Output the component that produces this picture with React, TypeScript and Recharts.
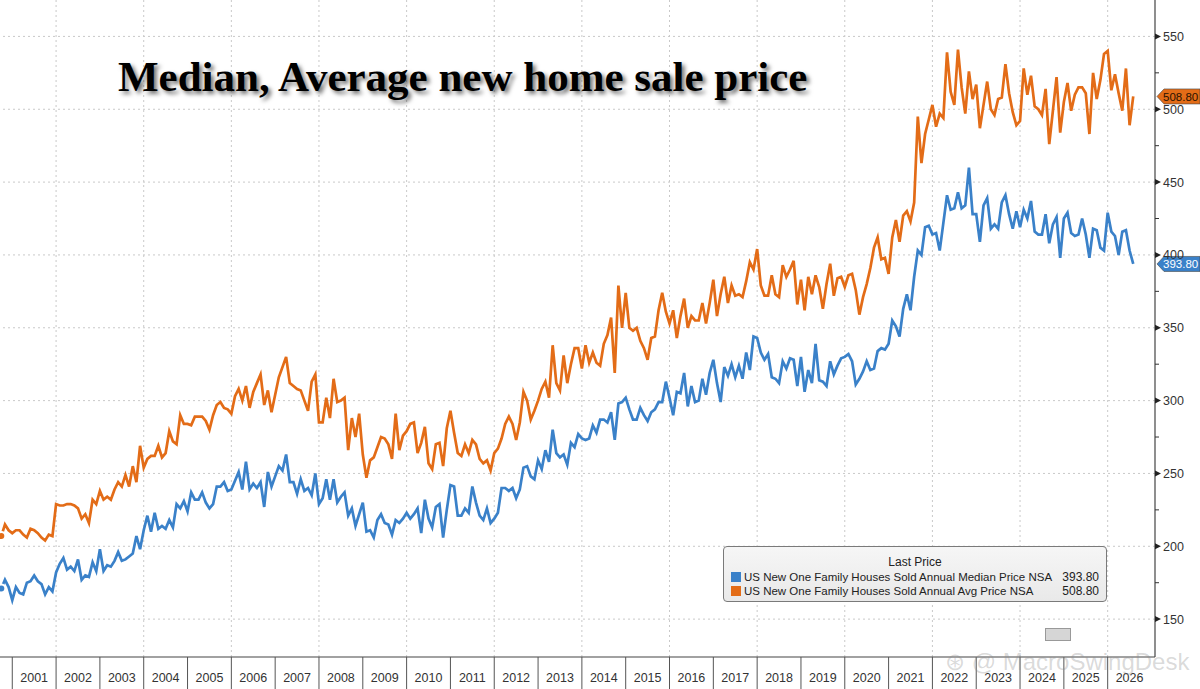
import React from 'react';
import { LineChart, Line, XAxis, YAxis, ReferenceLine, ReferenceDot } from 'recharts';

// monthly series, first point Oct 2000
const START_YEAR = 2000.75;

const MEDIAN = [
  171, 177, 172, 163, 172, 168, 167, 175, 176, 180, 176, 174, 167, 172, 169,
  182, 188, 192, 184, 186, 183, 191, 177, 180, 179, 189, 183, 198, 183, 187, 186,
  190, 196, 190, 191, 193, 195, 207, 198, 211, 221, 210, 223, 212, 214, 212, 218, 213, 229, 226, 231, 224,
  237, 232, 232, 237, 230, 226, 229, 241, 241, 244, 238, 239, 245, 251, 239, 258, 239, 243, 240, 244,
  227, 251, 241, 248, 255, 252, 263, 244, 244, 236, 246, 238, 240, 235, 250, 229, 233, 246, 232, 246,
  230, 234, 237, 221, 226, 214, 222, 230, 210, 211, 206, 218,
  222, 216, 215, 208, 218, 216, 219, 223, 219, 222, 226, 209, 232, 219, 213, 227, 229, 206, 225, 242,
  241, 221, 221, 226, 223, 241, 230, 221, 218, 226, 216, 219, 223, 240, 240, 238, 240, 233, 239, 254,
  255, 248, 246, 259, 253, 266, 258, 280, 264, 261, 263, 256, 271, 268, 277,
  274, 273, 274, 283, 278, 287, 287, 285, 292, 273, 298, 299, 302, 294, 287, 287, 295, 290, 286, 292,
  294, 299, 299, 313, 302, 290, 306, 305, 319, 296, 310, 299, 300, 315, 304, 319, 328, 312, 299, 323,
  317, 325, 316, 324, 315, 333, 321, 344, 343, 333, 328, 332,
  316, 315, 312, 327, 322, 329, 328, 310, 330, 306, 321, 312, 339, 314, 313, 310, 327, 318, 324, 329,
  330, 332, 327, 311, 315, 320, 327, 321, 322, 334, 336, 335, 339, 355, 351, 344, 363, 373, 362, 385,
  403, 400, 419, 420, 414, 415, 403, 422, 441, 431, 432, 443,
  432, 434, 460, 428, 428, 409, 434, 439, 418, 421, 418, 436, 441, 428, 418, 430, 419, 431, 425, 437,
  416, 414, 414, 428, 408, 421, 426, 398, 425, 429, 415, 413, 414, 425, 414, 398, 418, 417, 405, 403,
  429, 416, 413, 400, 416, 417, 403, 393.8,
];

const AVERAGE = [
  207, 215, 211, 209, 211, 211, 208, 206, 212, 211, 209, 206, 204, 208, 207,
  229, 228, 228, 229, 229, 228, 226, 219, 222, 216, 232, 229, 238, 232, 234, 232,
  239, 244, 241, 249, 241, 255, 244, 269, 254, 260, 262, 262, 269, 261, 264, 279, 272, 270, 290, 284,
  284, 283, 289, 289,
  289, 286, 280, 290, 297, 299, 295, 294, 291, 303, 308, 300, 310, 295, 306, 312, 318, 297, 307, 292,
  304, 316, 323, 330, 312, 310, 308, 307, 300, 293, 313, 318, 285, 285, 302, 288, 315, 299, 300, 302,
  266, 288, 275, 291, 263, 247, 259, 261, 268, 275, 274, 270,
  260, 291, 266, 276, 279, 284, 285, 264, 271, 282, 257, 253, 270, 271, 255, 281, 293, 278, 264, 262,
  270, 264, 273, 270, 260, 257, 259, 252, 264, 267, 274, 284, 289, 284, 273, 285, 306, 300, 287, 293,
  300, 308, 313, 302, 338, 312, 307, 331, 312, 325, 336, 336,
  322, 338, 326, 333, 326, 324, 339, 345, 357, 319, 379, 350, 374, 350, 348, 350, 341, 336, 328, 343,
  344, 362, 374, 361, 353, 362, 343, 358, 370, 350, 358, 355, 355, 367, 353, 367, 383, 358, 373, 385,
  367, 379, 372, 373, 371, 382, 395, 390, 404, 379, 372, 372,
  386, 373, 371, 393, 385, 390, 396, 366, 383, 362, 385, 373, 386, 378, 363, 380, 394, 372, 384, 385,
  378, 386, 387, 376, 359, 371, 380, 391, 405, 412, 397, 398, 387, 412, 424, 409, 427, 430, 423, 436,
  495, 463, 483, 493, 503, 488, 497, 494, 539, 512, 503, 541,
  515, 497, 526, 507, 517, 487, 503, 519, 500, 496, 507, 508, 531, 511, 498, 489, 492, 528, 510, 523,
  502, 500, 496, 514, 476, 499, 522, 484, 505, 518, 499, 510, 515, 515, 511, 483, 525, 507, 520, 538,
  540, 513, 524, 511, 499, 528, 489, 508.8,
];

const YEARS = [
  2001, 2002, 2003, 2004, 2005, 2006, 2007, 2008, 2009, 2010, 2011, 2012, 2013,
  2014, 2015, 2016, 2017, 2018, 2019, 2020, 2021, 2022, 2023, 2024, 2025, 2026,
];
const GRID_YEARS = [2002, 2004, 2006, 2008, 2010, 2012, 2014, 2016, 2018, 2020, 2022, 2024, 2026];
const Y_TICKS = [150, 175, 200, 225, 250, 275, 300, 325, 350, 375, 400, 425, 450, 475, 500, 525, 550];
const Y_GRID = [150, 200, 250, 300, 350, 400, 450, 500, 550];

const LAST_MEDIAN = 393.8;
const LAST_AVERAGE = 508.8;
const MEDIAN_NAME = 'US New One Family Houses Sold Annual Median Price NSA';
const AVERAGE_NAME = 'US New One Family Houses Sold Annual Avg Price NSA';

const BLUE = '#3a81c9';
const ORANGE = '#e36c17';

const X_MIN = 2000.72;
const X_MAX = 2027.08;
const WIDTH = 1200;
const HEIGHT = 689;
const AXIS_W = 45;
const PLOT_W = WIDTH - AXIS_W;
const HALF_YEAR = PLOT_W / (X_MAX - X_MIN) / 2;

const data = MEDIAN.map((m, i) => ({
  t: START_YEAR + i / 12,
  median: m,
  avg: AVERAGE[i],
}));

const FONT = '"Liberation Sans", Arial, sans-serif';

function YearTick(props: any) {
  const { x, y, payload } = props;
  return (
    <g>
      <line x1={x} y1={y} x2={x} y2={HEIGHT} stroke="#555" strokeWidth={1} />
      <text x={x + HALF_YEAR} y={y + 25} textAnchor="middle" fontFamily={FONT} fontSize={12.5} fill="#333">
        {payload.value}
      </text>
    </g>
  );
}

function PriceTick(props: any) {
  const { x, y, payload } = props;
  const major = payload.value % 50 === 0;
  if (!major) {
    return <line x1={x} y1={y} x2={x + 4} y2={y} stroke="#333" strokeWidth={1} />;
  }
  return (
    <g>
      <polygon points={`${x},${y - 3} ${x + 6},${y} ${x},${y + 3}`} fill="#222" />
      <text x={x + 8} y={y + 4.5} fontFamily={FONT} fontSize={12.5} fill="#333">
        {payload.value}
      </text>
    </g>
  );
}

function makeTag(bg: string, fg: string, text: string) {
  return (props: any) => {
    const { cx, cy } = props;
    const h = 15;
    return (
      <g>
        <polygon
          points={`${cx + 2},${cy} ${cx + 9},${cy - h / 2} ${WIDTH},${cy - h / 2} ${WIDTH},${cy + h / 2} ${cx + 9},${cy + h / 2}`}
          fill={bg}
          stroke="#444"
          strokeWidth={0.6}
        />
        <text x={cx + 8} y={cy + 4.3} fontFamily={FONT} fontSize={11.5} fill={fg}>
          {text}
        </text>
      </g>
    );
  };
}

export default function App() {
  const rows = [
    { c: BLUE, name: MEDIAN_NAME, v: LAST_MEDIAN },
    { c: ORANGE, name: AVERAGE_NAME, v: LAST_AVERAGE },
  ];
  return (
    <div style={{ position: 'absolute', left: 0, top: 0, width: WIDTH, height: HEIGHT, background: '#fff', overflow: 'hidden' }}>
      <LineChart width={WIDTH} height={HEIGHT} data={data} margin={{ top: 0, right: 0, bottom: 0, left: 0 }}>
        {Y_GRID.map((v) => (
          <ReferenceLine key={`h${v}`} y={v} stroke="#c9c9c9" strokeDasharray="2 3" />
        ))}
        {GRID_YEARS.map((v) => (
          <ReferenceLine key={`v${v}`} x={v} stroke="#c9c9c9" strokeDasharray="2 3" />
        ))}
        <XAxis
          type="number"
          dataKey="t"
          domain={[X_MIN, X_MAX]}
          allowDataOverflow
          ticks={YEARS}
          interval={0}
          tick={<YearTick />}
          tickLine={false}
          tickSize={0}
          tickMargin={0}
          height={HEIGHT - 657}
          axisLine={{ stroke: '#444', strokeWidth: 1.2 }}
        />
        <YAxis
          orientation="right"
          width={AXIS_W}
          domain={[124, 575]}
          allowDataOverflow
          ticks={Y_TICKS}
          interval={0}
          tick={<PriceTick />}
          tickLine={false}
          tickSize={0}
          tickMargin={0}
          axisLine={{ stroke: '#444', strokeWidth: 1.2 }}
        />
        <Line type="linear" dataKey="median" stroke={BLUE} strokeWidth={2.7} dot={false} isAnimationActive={false} />
        <Line type="linear" dataKey="avg" stroke={ORANGE} strokeWidth={2.7} dot={false} isAnimationActive={false} />
        <ReferenceDot x={X_MAX} y={LAST_AVERAGE} ifOverflow="visible" shape={makeTag(ORANGE, '#2a1200', LAST_AVERAGE.toFixed(2))} />
        <ReferenceDot x={X_MAX} y={LAST_MEDIAN} ifOverflow="visible" shape={makeTag(BLUE, '#ffffff', LAST_MEDIAN.toFixed(2))} />
      </LineChart>

      <div
        style={{
          position: 'absolute',
          left: 118,
          top: 53,
          fontFamily: '"Liberation Serif", "Times New Roman", serif',
          fontWeight: 'bold',
          fontSize: 43,
          lineHeight: 1.107,
          color: '#000',
          textShadow: '3px 3px 4px rgba(0,0,0,0.55)',
          whiteSpace: 'nowrap',
        }}
      >
        Median, Average new home sale price
      </div>

      <div
        style={{
          position: 'absolute',
          left: 723,
          top: 546,
          width: 384,
          height: 56,
          boxSizing: 'border-box',
          border: '1px solid #7a7a7a',
          borderRadius: 4,
          background: 'linear-gradient(#f6f6f6, #e9e9e9)',
          fontFamily: FONT,
          fontSize: 11.5,
          color: '#222',
          padding: '8px 7px 0 7px',
          lineHeight: '14.5px',
        }}
      >
        <div style={{ textAlign: 'center', fontSize: 12 }}>Last Price</div>
        {rows.map((r) => (
          <div key={r.name} style={{ position: 'relative', whiteSpace: 'nowrap', height: 14.5 }}>
            <span style={{ width: 10, height: 10, background: r.c, marginRight: 3, display: 'inline-block', verticalAlign: '-1px' }} />
            <span>{r.name}</span>
            <span style={{ position: 'absolute', right: 0, top: 0, fontSize: 12 }}>{r.v.toFixed(2)}</span>
          </div>
        ))}
      </div>

      <div
        style={{
          position: 'absolute',
          left: 1045,
          top: 628,
          width: 26,
          height: 13,
          boxSizing: 'border-box',
          border: '1px solid #999',
          background: '#d6d6d6',
        }}
      />

      <div
        style={{
          position: 'absolute',
          left: 945,
          top: 648,
          fontFamily: FONT,
          fontSize: 24,
          color: 'rgba(140,140,140,0.33)',
          whiteSpace: 'nowrap',
        }}
      >
        ⊛ @ MacroSwingDesk
      </div>
    </div>
  );
}
